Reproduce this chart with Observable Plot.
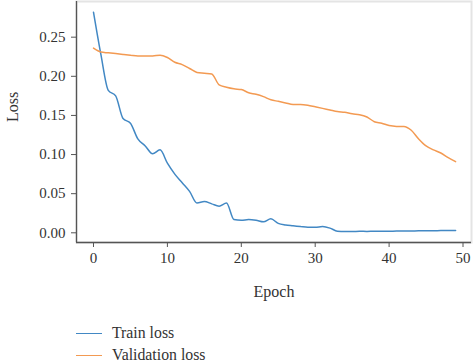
<!DOCTYPE html>
<html>
<head>
<meta charset="utf-8">
<script src="https://cdn.jsdelivr.net/npm/d3@7"></script>
<script src="https://cdn.jsdelivr.net/npm/@observablehq/plot@0.6"></script>
<style>
  body { margin: 0; background: #fff; font-family: "Liberation Serif", "DejaVu Serif", serif; }
  #wrap { position: relative; width: 474px; height: 364px; overflow: hidden; }
  .leg { position: absolute; left: 76px; height: 20px; display: flex; align-items: center; font-size: 15.8px; color: #333; }
  .sw { width: 26px; height: 0; border-top: 1.5px solid; margin-right: 10px; }
</style>
</head>
<body>
<div id="wrap"></div>
<script>
const seriesNames = ["Train loss", "Validation loss"];
const seriesColors = ["#4288c4", "#f39a52"];
const trainLoss = [0.282, 0.228, 0.182, 0.175, 0.146, 0.140, 0.120, 0.111, 0.101, 0.106,
                   0.089, 0.075, 0.064, 0.053, 0.038, 0.040, 0.037, 0.034, 0.038, 0.017,
                   0.016, 0.017, 0.016, 0.014, 0.018, 0.012, 0.010, 0.009, 0.008, 0.007,
                   0.007, 0.008, 0.006, 0.002, 0.0015, 0.0015, 0.002, 0.0018, 0.002, 0.002,
                   0.002, 0.0022, 0.0022, 0.0024, 0.0025, 0.0026, 0.0027, 0.0028, 0.0029, 0.003];
const valLoss = [0.236, 0.231, 0.230, 0.229, 0.228, 0.227, 0.226, 0.226, 0.226, 0.227,
                 0.224, 0.218, 0.215, 0.210, 0.205, 0.204, 0.203, 0.189, 0.186, 0.184,
                 0.183, 0.179, 0.177, 0.174, 0.170, 0.168, 0.166, 0.164, 0.164, 0.163,
                 0.161, 0.159, 0.157, 0.155, 0.154, 0.152, 0.151, 0.148, 0.142, 0.140,
                 0.137, 0.136, 0.136, 0.131, 0.120, 0.111, 0.106, 0.102, 0.096, 0.091];
const xTicks = [0, 10, 20, 30, 40, 50];
const yTicks = [0.00, 0.05, 0.10, 0.15, 0.20, 0.25];
const xLabel = "Epoch";
const yLabel = "Loss";

const data = [
  ...trainLoss.map((v, i) => ({epoch: i, loss: v, series: seriesNames[0]})),
  ...valLoss.map((v, i) => ({epoch: i, loss: v, series: seriesNames[1]}))
];

const xDomain = [-2.3, 51.15];
const yDomain = [-0.0124, 0.2956];

const chart = Plot.plot({
  width: 474,
  height: 312,
  marginLeft: 76,
  marginRight: 3,
  marginTop: 1,
  marginBottom: 70,
  style: { fontFamily: "'Liberation Serif', 'DejaVu Serif', serif", fontSize: "15px", color: "#333", background: "#fff" },
  x: { domain: xDomain },
  y: { domain: yDomain },
  color: { domain: seriesNames, range: seriesColors },
  marks: [
    Plot.frame({ stroke: "#e4e4e4", strokeWidth: 2 }),
    Plot.line(data, { x: "epoch", y: "loss", stroke: "series", strokeWidth: 1.5, curve: "monotone-x" }),
    Plot.ruleX([xDomain[0]], { stroke: "#555", strokeWidth: 1.3 }),
    Plot.ruleY([yDomain[0]], { stroke: "#555", strokeWidth: 1.3 }),
    Plot.axisX({ ticks: xTicks, tickSize: 5, tickPadding: 5, tickFormat: d => String(d), label: null, stroke: "#555" }),
    Plot.axisY({ ticks: yTicks, tickSize: 5, tickPadding: 6, tickFormat: d3.format(".2f"), label: null, stroke: "#555" }),
    Plot.text([xLabel], { frameAnchor: "bottom", dy: 54, fontSize: 16, fill: "#333" }),
    Plot.text([yLabel], { frameAnchor: "left", dx: -64, rotate: -90, fontSize: 16, fill: "#333" })
  ]
});

const wrap = document.getElementById("wrap");
wrap.appendChild(chart);
seriesNames.forEach((name, i) => {
  const item = document.createElement("div");
  item.className = "leg";
  item.style.top = (323 + i * 22) + "px";
  const sw = document.createElement("span");
  sw.className = "sw";
  sw.style.borderColor = seriesColors[i];
  const t = document.createElement("span");
  t.textContent = name;
  item.appendChild(sw);
  item.appendChild(t);
  wrap.appendChild(item);
});
</script>
</body>
</html>
